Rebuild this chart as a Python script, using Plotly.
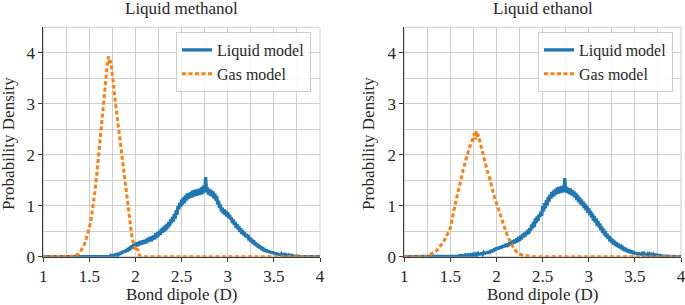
import plotly.graph_objects as go

# ---------------- data ----------------
STEP = 0.01

# Liquid methanol, liquid-model bond dipole density (sampled every 0.01 D from 1.70)
meoh_liq_x0 = 1.70
meoh_liq_y = [
    0.00, 0.01, 0.00, 0.02, 0.00, 0.02, 0.01, 0.03, 0.01, 0.04,
    0.05, 0.03, 0.07, 0.04, 0.09, 0.06, 0.11, 0.08, 0.12, 0.09,
    0.14, 0.10, 0.17, 0.12, 0.20, 0.15, 0.22, 0.17, 0.24, 0.19,
    0.27, 0.20, 0.28, 0.21, 0.30, 0.23, 0.31, 0.24, 0.32, 0.25,
    0.33, 0.26, 0.35, 0.28, 0.37, 0.30, 0.39, 0.30, 0.40, 0.33,
    0.42, 0.34, 0.46, 0.37, 0.48, 0.40, 0.51, 0.43, 0.55, 0.47,
    0.58, 0.49, 0.61, 0.52, 0.64, 0.56, 0.68, 0.60, 0.73, 0.66,
    0.78, 0.69, 0.84, 0.75, 0.91, 0.82, 0.99, 0.93, 1.06, 0.98,
    1.12, 1.02, 1.16, 1.05, 1.20, 1.10, 1.24, 1.13, 1.25, 1.15,
    1.27, 1.16, 1.30, 1.18, 1.31, 1.19, 1.32, 1.20, 1.33, 1.21,
    1.34, 1.22, 1.37, 1.24, 1.40, 1.27, 1.56, 1.26, 1.36, 1.22,
    1.33, 1.20, 1.31, 1.18, 1.28, 1.14, 1.24, 1.10, 1.19, 1.03,
    1.10, 0.96, 1.02, 0.89, 0.96, 0.85, 0.93, 0.82, 0.90, 0.79,
    0.87, 0.76, 0.82, 0.73, 0.77, 0.66, 0.73, 0.62, 0.68, 0.57,
    0.64, 0.54, 0.60, 0.49, 0.56, 0.45, 0.52, 0.42, 0.49, 0.39,
    0.45, 0.37, 0.43, 0.32, 0.38, 0.29, 0.35, 0.26, 0.32, 0.23,
    0.28, 0.21, 0.25, 0.18, 0.23, 0.16, 0.20, 0.13, 0.18, 0.11,
    0.15, 0.10, 0.14, 0.09, 0.12, 0.08, 0.11, 0.07, 0.10, 0.06,
    0.09, 0.05, 0.08, 0.04, 0.07, 0.03, 0.06, 0.02, 0.05, 0.02,
    0.04, 0.02, 0.04, 0.01, 0.03, 0.01, 0.03, 0.00, 0.02, 0.00,
    0.02, 0.00, 0.01, 0.00, 0.01, 0.00, 0.01, 0.00, 0.00, 0.00,
    0.00,
]

# Liquid methanol, gas-model density
meoh_gas_x = [1.30, 1.34, 1.36, 1.38, 1.40, 1.42, 1.44, 1.46, 1.48, 1.50,
              1.52, 1.54, 1.56, 1.58, 1.60, 1.62, 1.64, 1.66, 1.68, 1.70,
              1.71, 1.72, 1.73, 1.74, 1.76, 1.78, 1.80, 1.82, 1.84, 1.86,
              1.88, 1.90, 1.92, 1.94, 1.96, 1.98, 2.00, 2.02, 2.04, 2.06, 2.10]
meoh_gas_y = [0.00, 0.01, 0.03, 0.05, 0.09, 0.15, 0.22, 0.32, 0.43, 0.58,
              0.75, 0.98, 1.28, 1.62, 2.00, 2.40, 2.78, 3.18, 3.60, 3.88,
              3.93, 3.78, 3.85, 3.72, 3.40, 3.05, 2.75, 2.48, 2.16, 1.86,
              1.52, 1.18, 0.90, 0.62, 0.40, 0.24, 0.12, 0.16, 0.03, 0.01, 0.00]

# Liquid ethanol, liquid-model density (sampled every 0.01 D from 1.50)
etoh_liq_x0 = 1.50
etoh_liq_y = [
    0.00, 0.00, 0.01, 0.00, 0.01, 0.00, 0.01, 0.00, 0.01, 0.01,
    0.02, 0.00, 0.02, 0.01, 0.02, 0.01, 0.03, 0.01, 0.03, 0.01,
    0.03, 0.02, 0.04, 0.02, 0.04, 0.02, 0.05, 0.03, 0.05, 0.03,
    0.06, 0.03, 0.07, 0.04, 0.08, 0.05, 0.08, 0.05, 0.09, 0.06,
    0.10, 0.06, 0.11, 0.07, 0.13, 0.09, 0.14, 0.11, 0.16, 0.13,
    0.18, 0.14, 0.19, 0.15, 0.20, 0.16, 0.22, 0.18, 0.23, 0.19,
    0.25, 0.19, 0.26, 0.21, 0.28, 0.23, 0.30, 0.24, 0.32, 0.26,
    0.34, 0.27, 0.36, 0.29, 0.39, 0.31, 0.41, 0.34, 0.44, 0.38,
    0.47, 0.40, 0.49, 0.43, 0.53, 0.45, 0.56, 0.51, 0.63, 0.56,
    0.68, 0.58, 0.75, 0.66, 0.79, 0.70, 0.83, 0.78, 0.88, 0.80,
    0.99, 0.89, 1.05, 0.95, 1.11, 1.01, 1.17, 1.08, 1.22, 1.14,
    1.27, 1.17, 1.30, 1.20, 1.33, 1.23, 1.36, 1.24, 1.37, 1.25,
    1.38, 1.26, 1.39, 1.27, 1.54, 1.26, 1.37, 1.25, 1.35, 1.23,
    1.34, 1.21, 1.31, 1.19, 1.28, 1.16, 1.25, 1.11, 1.21, 1.07,
    1.16, 1.03, 1.12, 1.00, 1.08, 0.95, 1.04, 0.91, 1.00, 0.86,
    0.95, 0.82, 0.90, 0.77, 0.85, 0.71, 0.80, 0.67, 0.75, 0.61,
    0.70, 0.58, 0.65, 0.52, 0.60, 0.47, 0.55, 0.42, 0.50, 0.38,
    0.45, 0.35, 0.41, 0.30, 0.37, 0.27, 0.34, 0.24, 0.31, 0.21,
    0.28, 0.19, 0.26, 0.17, 0.24, 0.15, 0.22, 0.13, 0.19, 0.11,
    0.17, 0.10, 0.15, 0.08, 0.14, 0.07, 0.12, 0.06, 0.11, 0.05,
    0.09, 0.05, 0.08, 0.04, 0.08, 0.04, 0.07, 0.03, 0.06, 0.03,
    0.06, 0.03, 0.06, 0.02, 0.05, 0.02, 0.05, 0.02, 0.04, 0.01,
    0.04, 0.01, 0.03, 0.01, 0.03, 0.01, 0.02, 0.00, 0.02, 0.00,
    0.01, 0.00, 0.01, 0.00, 0.01, 0.00, 0.00, 0.01, 0.00, 0.00,
    0.00,
]

# Liquid ethanol, gas-model density
etoh_gas_x = [1.20, 1.24, 1.26, 1.28, 1.30, 1.32, 1.34, 1.36, 1.38, 1.40,
              1.42, 1.44, 1.46, 1.48, 1.50, 1.52, 1.54, 1.56, 1.58, 1.60,
              1.62, 1.64, 1.66, 1.68, 1.70, 1.72, 1.74, 1.76, 1.77, 1.78,
              1.79, 1.80, 1.82, 1.84, 1.86, 1.88, 1.90, 1.92, 1.94, 1.96,
              1.98, 2.00, 2.02, 2.04, 2.06, 2.08, 2.10, 2.12, 2.14, 2.16,
              2.18, 2.20, 2.22, 2.24, 2.26, 2.28, 2.30, 2.34, 2.40]
etoh_gas_y = [0.00, 0.00, 0.02, 0.04, 0.05, 0.08, 0.10, 0.14, 0.18, 0.22,
              0.28, 0.34, 0.41, 0.49, 0.57, 0.75, 0.97, 1.10, 1.25, 1.42,
              1.58, 1.72, 1.85, 2.00, 2.10, 2.22, 2.30, 2.42, 2.30, 2.47,
              2.33, 2.40, 2.25, 2.12, 2.00, 1.82, 1.68, 1.58, 1.42, 1.30,
              1.15, 1.05, 0.93, 0.82, 0.72, 0.60, 0.50, 0.41, 0.32, 0.25,
              0.19, 0.13, 0.09, 0.06, 0.04, 0.03, 0.02, 0.01, 0.00]

X_MIN, X_MAX = 1.0, 4.0
titles = ["Liquid methanol", "Liquid ethanol"]
series_names = ["Liquid model", "Gas model"]
x_label = "Bond dipole (D)"
y_label = "Probability Density"
x_ticks = [1, 1.5, 2, 2.5, 3, 3.5, 4]
y_ticks = [0, 1, 2, 3, 4]

# ---------------- helpers ----------------
def sampled(x0, ys):
    xs = [round(x0 + i * STEP, 4) for i in range(len(ys))]
    return [X_MIN] + xs + [X_MAX], [0.0] + list(ys) + [0.0]

def padded(xs, ys):
    return [X_MIN] + list(xs) + [X_MAX], [0.0] + list(ys) + [0.0]

W, H = 685, 305
BLUE = "#1f77b4"
ORANGE = "#ff7f0e"
GRID = "#cdcdcd"
AXIS = "#3a3a3a"
TEXT = "#262626"
FONT = "Liberation Serif"
FS = 17

fig = go.Figure()

panels = [
    (sampled(meoh_liq_x0, meoh_liq_y), padded(meoh_gas_x, meoh_gas_y), "x", "y", "legend"),
    (sampled(etoh_liq_x0, etoh_liq_y), padded(etoh_gas_x, etoh_gas_y), "x2", "y2", "legend2"),
]
for (lx, ly), (gx, gy), xa, ya, lg in panels:
    fig.add_trace(go.Scatter(x=lx, y=ly, mode="lines", name=series_names[0],
                             line=dict(color=BLUE, width=3.3), xaxis=xa, yaxis=ya,
                             legend=lg))
    fig.add_trace(go.Scatter(x=gx, y=gy, mode="lines", name=series_names[1],
                             line=dict(color=ORANGE, width=3, dash="4px,2.5px"),
                             xaxis=xa, yaxis=ya, legend=lg))

px_left = [43.3, 404.3]
px_right = [320.0, 681.0]
px_top, px_bottom = 27.3, 256.7
x_domains = [[l / W, r / W] for l, r in zip(px_left, px_right)]
y_domain = [(H - px_bottom) / H, (H - px_top) / H]

def xaxis_cfg(dom, anchor):
    return dict(domain=dom, anchor=anchor, range=[X_MIN, X_MAX], automargin=False,
                tickmode="array", tickvals=x_ticks, ticktext=[f"{v:g}" for v in x_ticks],
                ticklabeloverflow="allow",
                showgrid=True, gridcolor=GRID, gridwidth=1,
                minor=dict(dtick=0.25, tick0=1, showgrid=True, gridcolor=GRID, gridwidth=1, ticks=""),
                ticks="outside", ticklen=4, tickcolor=AXIS, tickwidth=1,
                showline=True, linecolor=AXIS, linewidth=1, zeroline=False,
                tickfont=dict(size=FS, color=TEXT))

def yaxis_cfg(anchor):
    return dict(domain=y_domain, range=[0, 4.5], anchor=anchor, automargin=False,
                tickmode="array", tickvals=y_ticks, ticktext=[str(v) for v in y_ticks],
                showgrid=True, gridcolor=GRID, gridwidth=1,
                minor=dict(dtick=0.5, tick0=0, showgrid=True, gridcolor=GRID, gridwidth=1, ticks=""),
                ticks="outside", ticklen=4, tickcolor=AXIS, tickwidth=1,
                showline=True, linecolor=AXIS, linewidth=1, zeroline=False,
                tickfont=dict(size=FS, color=TEXT))

legend_common = dict(bgcolor="rgba(255,255,255,0.85)", bordercolor="#cccccc", borderwidth=1,
                     font=dict(size=16, color=TEXT), tracegroupgap=0, itemwidth=30,
                     xanchor="right", yanchor="top", y=(H - 32) / H)

fig.update_layout(
    width=W, height=H,
    margin=dict(l=0, r=0, t=0, b=0),
    paper_bgcolor="white", plot_bgcolor="white",
    font=dict(family=FONT, size=FS, color=TEXT),
    showlegend=True,
    xaxis=xaxis_cfg(x_domains[0], "y"),
    yaxis=yaxis_cfg("x"),
    xaxis2=xaxis_cfg(x_domains[1], "y2"),
    yaxis2=yaxis_cfg("x2"),
    legend=dict(x=311 / W, **legend_common),
    legend2=dict(x=673 / W, **legend_common),
)

ylab_x = [8.0, 368.0]
for i, (t, dom) in enumerate(zip(titles, x_domains)):
    cx = (dom[0] + dom[1]) / 2
    fig.add_annotation(text=t, x=cx, xref="paper", y=(H - 8) / H, yref="paper",
                       xanchor="center", yanchor="middle", showarrow=False,
                       font=dict(size=FS, color=TEXT))
    fig.add_annotation(text=x_label, x=cx, xref="paper", y=(H - 294) / H, yref="paper",
                       xanchor="center", yanchor="middle", showarrow=False,
                       font=dict(size=FS, color=TEXT))
    fig.add_annotation(text=y_label, x=ylab_x[i] / W, xref="paper",
                       y=(H - 144) / H, yref="paper",
                       xanchor="center", yanchor="middle", textangle=-90, showarrow=False,
                       font=dict(size=FS, color=TEXT))

for xr, yr in [("x domain", "y domain"), ("x2 domain", "y2 domain")]:
    fig.add_shape(type="rect", xref=xr, yref=yr, x0=0, x1=1, y0=0, y1=1,
                  line=dict(color=GRID, width=1), layer="below")

fig.write_html("out.html", config={"displayModeBar": False},
               post_script="document.body.style.margin='0';document.body.style.overflow='hidden';")
